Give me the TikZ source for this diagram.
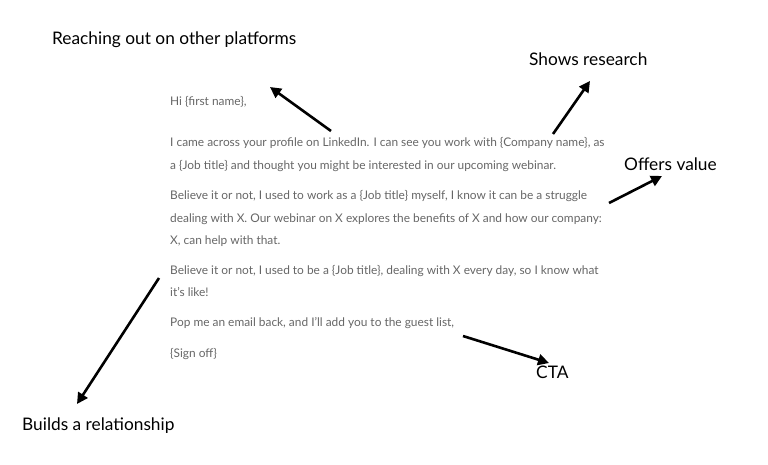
\documentclass[tikz,border=0pt]{standalone}
\usepackage{fontspec}
\setmainfont{Lato}
\usetikzlibrary{arrows.meta}
\begin{document}
\begin{tikzpicture}[x=1pt,y=-1pt,
  body/.style={anchor=west,inner sep=0,text=black!60,font=\fontsize{11.9}{13}\selectfont},
  lab/.style={anchor=west,inner sep=0,text=black,font=\fontsize{17.3}{20}\selectfont},
  arr/.style={line width=2.6pt,-{Stealth[length=11pt,width=11pt,inset=0pt]}}]
\useasboundingbox (0,0) rectangle (768,464);
\node[body] (l1) at (170,102) {Hi \{first name\},};
\node[body] (l2) at (170,143) {I came across your profile on LinkedIn. I can see you work with \{Company name\}, as};
\node[body] (l3) at (170,166) {a \{Job title\} and thought you might be interested in our upcoming webinar.};
\node[body] (l4) at (170,196) {Believe it or not, I used to work as a \{Job title\} myself, I know it can be a struggle};
\node[body] (l5) at (170,219) {dealing with X. Our webinar on X explores the benefits of X and how our company:};
\node[body] (l6) at (170,241) {X, can help with that.};
\node[body] (l7) at (170,271) {Believe it or not, I used to be a \{Job title\}, dealing with X every day, so I know what};
\node[body] (l8) at (170,292) {it's like!};
\node[body] (l9) at (170,323) {Pop me an email back, and I'll add you to the guest list,};
\node[body] (l10) at (170,354) {\{Sign off\}};
\node[lab] (a) at (52,40) {Reaching out on other platforms};
\node[lab] (b) at (529,59) {Shows research};
\node[lab] (c) at (624,164) {Offers value};
\node[lab] (d) at (536,372) {CTA};
\node[lab] (e) at (22,426) {Builds a relationship};
\coordinate (a1) at (331,131); \coordinate (a2) at (270,87);
\coordinate (b1) at (553,134); \coordinate (b2) at (590,81);
\coordinate (c1) at (609,203); \coordinate (c2) at (662,176);
\coordinate (d1) at (463,336); \coordinate (d2) at (549,363);
\coordinate (e1) at (159,278); \coordinate (e2) at (77,404);
\draw[arr] (a1) -- (a2);
\draw[arr] (b1) -- (b2);
\draw[arr] (c1) -- (c2);
\draw[arr] (d1) -- (d2);
\draw[arr] (e1) -- (e2);
\end{tikzpicture}
\end{document}
